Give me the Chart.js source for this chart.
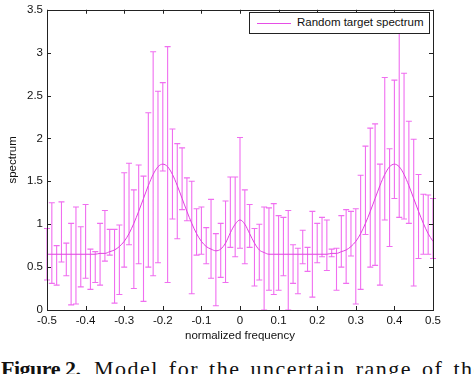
<!DOCTYPE html>
<html>
<head>
<meta charset="utf-8">
<script src="https://cdn.jsdelivr.net/npm/chart.js@4.4.1/dist/chart.umd.min.js"></script>
<style>
  html, body { margin: 0; padding: 0; background: #fff; }
  body { width: 474px; height: 374px; overflow: hidden; position: relative; }
  #wrap { position: absolute; left: 0; top: 0; width: 474px; height: 350px; }
  #legend {
    position: absolute; left: 249px; top: 12px; width: 179px; height: 20px;
    border: 1px solid #222; background: #fff;
    font: 11.5px "Liberation Sans", Arial, sans-serif; color: #111;
  }
  #legend .swatch { position: absolute; left: 7px; top: 10px; width: 34px; height: 0; border-top: 1px solid #e64ee6; }
  #legend .label { position: absolute; left: 47px; top: 3px; white-space: nowrap; }
  #caption {
    position: absolute; left: 1px; top: 358px; white-space: nowrap;
    font: 22px/22px "Liberation Serif", "Times New Roman", serif; color: #111;
  }
  #caption b { letter-spacing: -0.5px; }
  #caption span { letter-spacing: 1.5px; word-spacing: 3px; margin-left: 8px; }
</style>
</head>
<body>
<div id="wrap"><canvas id="specChart"></canvas></div>
<div id="legend"><span class="swatch"></span><span class="label">Random target spectrum</span></div>
<div id="caption"><b>Figure 2.</b> <span>Model for the uncertain range of the</span></div>
<script>
// normalized frequency of each sample
const freq = [
  -0.5, -0.4875, -0.475, -0.4625, -0.45, -0.4375, -0.425, -0.4125, -0.4, -0.3875,
  -0.375, -0.3625, -0.35, -0.3375, -0.325, -0.3125, -0.3, -0.2875, -0.275, -0.2625,
  -0.25, -0.2375, -0.225, -0.2125, -0.2, -0.1875, -0.175, -0.1625, -0.15, -0.1375,
  -0.125, -0.1125, -0.1, -0.0875, -0.075, -0.0625, -0.05, -0.0375, -0.025, -0.0125,
  0, 0.0125, 0.025, 0.0375, 0.05, 0.0625, 0.075, 0.0875, 0.1, 0.1125,
  0.125, 0.1375, 0.15, 0.1625, 0.175, 0.1875, 0.2, 0.2125, 0.225, 0.2375,
  0.25, 0.2625, 0.275, 0.2875, 0.3, 0.3125, 0.325, 0.3375, 0.35, 0.3625,
  0.375, 0.3875, 0.4, 0.4125, 0.425, 0.4375, 0.45, 0.4625, 0.475, 0.4875,
  0.5
];

// target spectrum (the smooth line)
const spectrum = [
  0.65, 0.65, 0.65, 0.65, 0.65, 0.65, 0.65, 0.65, 0.65, 0.65,
  0.65, 0.66, 0.66, 0.68, 0.70, 0.74, 0.80, 0.89, 1.01, 1.15,
  1.30, 1.45, 1.58, 1.67, 1.70, 1.67, 1.58, 1.45, 1.30, 1.15,
  1.01, 0.89, 0.80, 0.74, 0.71, 0.69, 0.71, 0.78, 0.90, 1.00,
  1.05, 1.00, 0.89, 0.78, 0.70, 0.67, 0.65, 0.65, 0.65, 0.65,
  0.65, 0.65, 0.65, 0.65, 0.65, 0.65, 0.65, 0.65, 0.65, 0.66,
  0.66, 0.68, 0.70, 0.74, 0.80, 0.89, 1.01, 1.15, 1.30, 1.45,
  1.58, 1.67, 1.70, 1.67, 1.58, 1.45, 1.30, 1.15, 1.01, 0.89,
  0.80
];

// uncertain range: bottom and top of each error bar
const lower = [
  0.35, 0.31, 0.29, 0.56, 0.40, 0.06, 0.07, 0.27, 0.37, 0.24,
  0.32, 0.29, 0.57, 0.64, 0.08, 0.18, 0.50, 0.76, 0.25, 0.54,
  0.10, 0.50, 0.40, 0.55, 1.62, 0.32, 1.06, 0.83, 1.17, 1.04,
  0.19, 0.64, 0.65, 0.54, 0.37, 0.05, 0.38, 0.32, 0.73, 0.62,
  0.72, 0.54, 0.73, 0.28, 0.35, 0.00, 0.23, 0.18, 0.23, 0.40,
  0.00, 0.31, 0.19, 0.54, 0.45, 0.15, 0.55, 0.62, 0.46, 0.62,
  0.23, 0.50, 0.31, 0.63, 0.07, 0.24, 0.88, 0.50, 0.52, 0.29,
  1.05, 0.74, 1.30, 1.08, 1.06, 1.01, 0.28, 0.60, 0.65, 0.65,
  0.60
];
const upper = [
  0.95, 1.25, 0.75, 1.26, 0.78, 1.01, 1.20, 0.97, 1.23, 0.71,
  0.68, 1.01, 1.16, 0.94, 0.94, 0.99, 1.60, 1.71, 1.40, 1.69,
  1.56, 2.30, 3.01, 2.55, 2.65, 3.07, 2.11, 1.94, 1.89, 1.54,
  1.50, 1.18, 1.20, 0.96, 1.29, 0.89, 1.01, 1.27, 1.55, 1.55,
  2.01, 1.40, 1.23, 0.95, 1.00, 1.20, 1.19, 1.24, 1.10, 1.08,
  1.16, 0.76, 0.72, 0.93, 0.73, 1.15, 1.01, 1.08, 1.05, 0.71,
  0.72, 1.10, 1.17, 1.15, 1.18, 1.57, 1.91, 2.12, 2.17, 1.70,
  2.71, 1.88, 2.68, 3.35, 2.76, 2.20, 1.99, 1.58, 1.35, 1.34,
  1.30
];

const barColor = '#f06ef0';
const lineColor = '#e040e0';
const axisColor = '#222';
const fontFamily = '"Liberation Sans", Arial, sans-serif';

// error bars drawn under the line, through the chart scales
const errorBars = {
  id: 'errorBars',
  beforeDatasetsDraw(chart) {
    const { ctx, scales: { x, y } } = chart;
    ctx.save();
    ctx.strokeStyle = barColor;
    ctx.lineWidth = 1.1;
    ctx.beginPath();
    freq.forEach((f, i) => {
      const px = x.getPixelForValue(f);
      const top = y.getPixelForValue(upper[i]);
      const bot = y.getPixelForValue(lower[i]);
      ctx.moveTo(px, top); ctx.lineTo(px, bot);
      ctx.moveTo(px - 3, top); ctx.lineTo(px + 3, top);
      ctx.moveTo(px - 3, bot); ctx.lineTo(px + 3, bot);
    });
    ctx.stroke();
    ctx.restore();
  }
};

// matlab style box with inward ticks on all four sides
const boxFrame = {
  id: 'boxFrame',
  afterDraw(chart) {
    const { ctx, chartArea: a, scales: { x, y } } = chart;
    const len = 4;
    ctx.save();
    ctx.strokeStyle = axisColor;
    ctx.lineWidth = 1;
    ctx.beginPath();
    x.ticks.forEach(t => {
      const px = Math.round(x.getPixelForValue(t.value)) + 0.5;
      ctx.moveTo(px, a.bottom); ctx.lineTo(px, a.bottom - len);
      ctx.moveTo(px, a.top); ctx.lineTo(px, a.top + len);
    });
    y.ticks.forEach(t => {
      const py = Math.round(y.getPixelForValue(t.value)) + 0.5;
      ctx.moveTo(a.left, py); ctx.lineTo(a.left + len, py);
      ctx.moveTo(a.right, py); ctx.lineTo(a.right - len, py);
    });
    ctx.stroke();
    ctx.strokeRect(Math.round(a.left) + 0.5, Math.round(a.top) + 0.5,
      Math.round(a.right - a.left), Math.round(a.bottom - a.top));
    ctx.restore();
  }
};

const ctx = document.getElementById('specChart').getContext('2d');
new Chart(ctx, {
  type: 'line',
  data: {
    datasets: [{
      label: 'Random target spectrum',
      data: freq.map((f, i) => ({ x: f, y: spectrum[i] })),
      borderColor: lineColor,
      borderWidth: 1,
      pointRadius: 0,
      cubicInterpolationMode: 'monotone',
      fill: false
    }]
  },
  options: {
    responsive: true,
    maintainAspectRatio: false,
    animation: false,
    layout: { padding: { left: 0, top: 6, right: 41, bottom: 0 } },
    plugins: {
      legend: { display: false },
      tooltip: { enabled: false }
    },
    scales: {
      x: {
        type: 'linear',
        min: -0.5,
        max: 0.5,
        grid: { display: false, drawTicks: false },
        border: { display: false },
        ticks: {
          stepSize: 0.1,
          padding: 5,
          color: '#111',
          maxRotation: 0,
          font: { family: fontFamily, size: 11.5, lineHeight: 1 },
          callback: v => String(Math.round(v * 10) / 10)
        },
        title: {
          display: true,
          text: 'normalized frequency',
          color: '#111',
          padding: { top: 0, bottom: 7 },
          font: { family: fontFamily, size: 11.5 }
        },
        afterFit: scale => { scale.height = 40; }
      },
      y: {
        min: 0,
        max: 3.5,
        grid: { display: false, drawTicks: false },
        border: { display: false },
        ticks: {
          stepSize: 0.5,
          padding: 4,
          color: '#111',
          font: { family: fontFamily, size: 11.5, lineHeight: 1 },
          callback: v => String(Math.round(v * 10) / 10)
        },
        title: {
          display: true,
          text: 'spectrum',
          color: '#111',
          padding: { top: 6, bottom: 0 },
          font: { family: fontFamily, size: 11.5 }
        },
        afterFit: scale => { scale.width = 47; }
      }
    }
  },
  plugins: [errorBars, boxFrame]
});
</script>
</body>
</html>
